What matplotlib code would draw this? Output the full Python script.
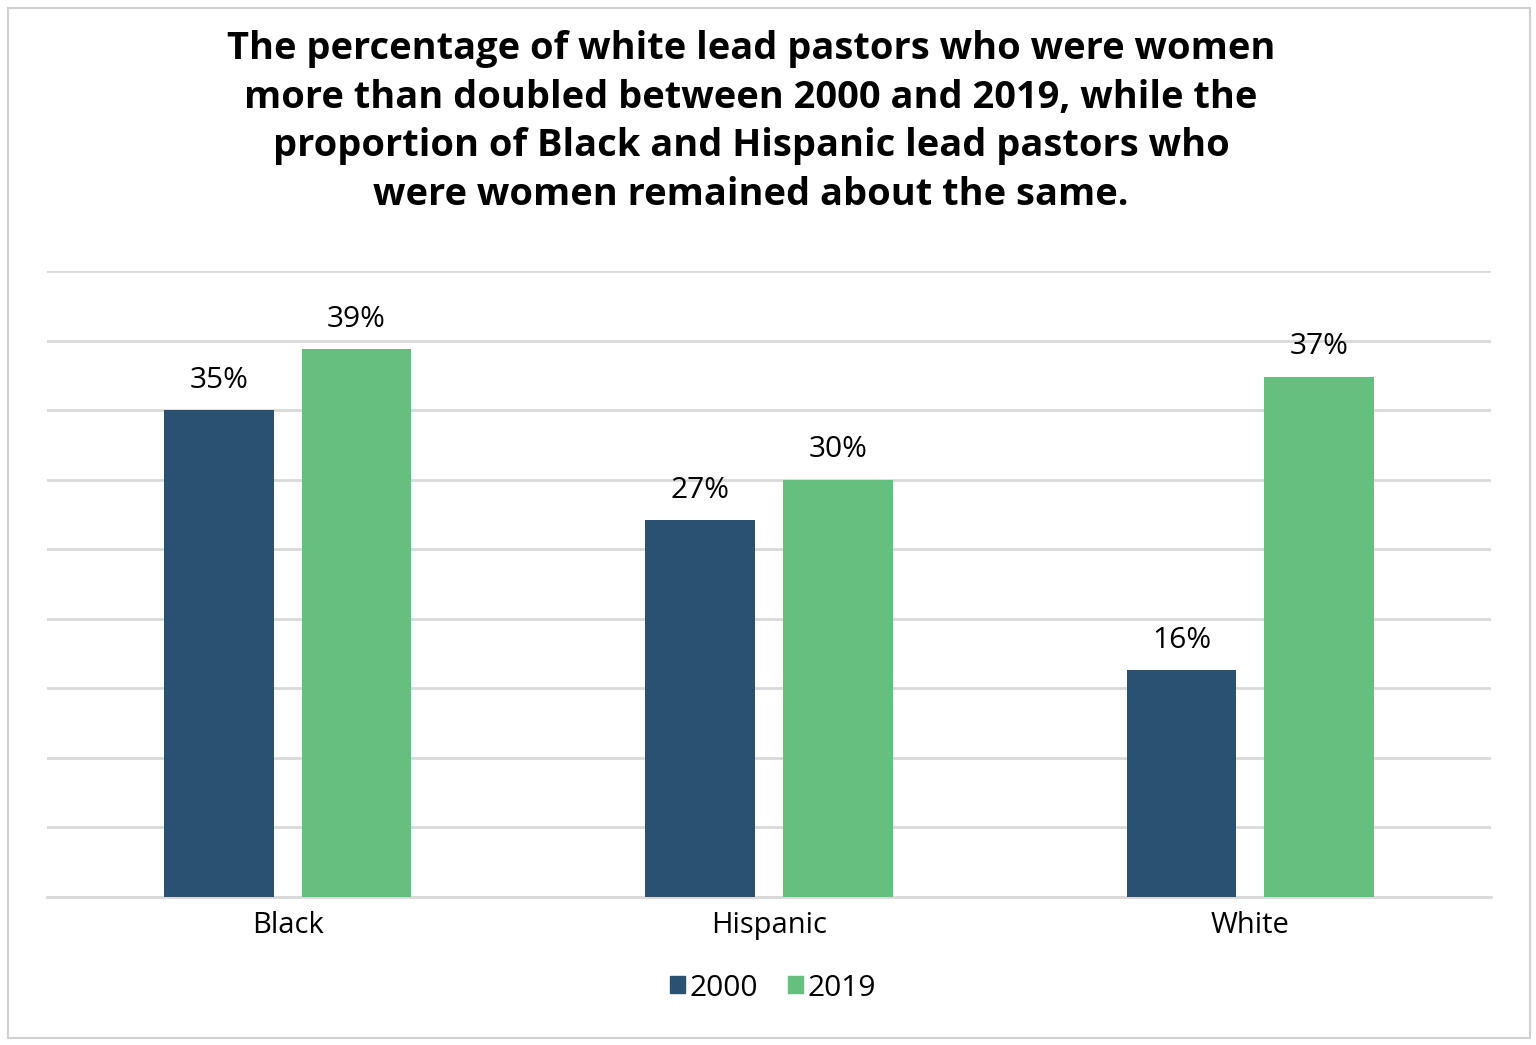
import matplotlib
matplotlib.use("Agg")
import matplotlib.pyplot as plt
from matplotlib.patches import Rectangle, Patch
import numpy as np

categories = ["Black", "Hispanic", "White"]
series_names = ["2000", "2019"]
values_2000 = [35.0, 27.1, 16.3]
values_2019 = [39.4, 30.0, 37.4]
labels_2000 = ["35%", "27%", "16%"]
labels_2019 = ["39%", "30%", "37%"]

colors = ["#2b5170", "#66bf7f"]
plt.rcParams['font.family'] = ['Open Sans', 'DejaVu Sans']

fig = plt.figure(figsize=(15.36, 10.45), dpi=100)
fig.patches.append(Rectangle((8/1536, 7/1045), 1522/1536, 1030/1045, transform=fig.transFigure,
                             fill=False, edgecolor="#d0d0d0", linewidth=1.5))

ax = fig.add_axes([47/1536, 1 - 897/1045, 1444/1536, (897 - 271)/1045])
x = np.arange(len(categories))
w = 0.228
off = 0.143
b1 = ax.bar(x - off, values_2000, w, color=colors[0], zorder=3)
b2 = ax.bar(x + off, values_2019, w, color=colors[1], zorder=3)
for bars, labs in ((b1, labels_2000), (b2, labels_2019)):
    for r, lab in zip(bars, labs):
        ax.annotate(lab, (r.get_x() + r.get_width()/2, r.get_height()), xytext=(0, 11),
                    textcoords="offset points", ha="center", va="bottom", fontsize=21.5)

ax.set_xlim(-0.5, 2.5)
ax.set_ylim(0, 45)
ax.set_yticks(np.arange(0, 46, 5))
ax.yaxis.grid(True, color="#d9d9d9", linewidth=2, zorder=0)
ax.tick_params(axis="y", left=False, labelleft=False)
ax.tick_params(axis="x", length=0, labelsize=21, pad=10)
ax.set_xticks(x)
ax.set_xticklabels(categories)
for s in ["top", "right", "left"]:
    ax.spines[s].set_visible(False)
ax.spines["bottom"].set_color("#d9d9d9")
ax.spines["bottom"].set_linewidth(2)

handles = [Patch(color=c, label=n) for c, n in zip(colors, series_names)]
fig.legend(handles=handles, loc="center", bbox_to_anchor=(773/1536, 1 - 988/1045), ncol=2,
           frameon=False, fontsize=21.5, handlelength=0.5, handleheight=0.5, handletextpad=0.15,
           columnspacing=1.0)

fig.text(0.489, 1 - 122/1045,
         "The percentage of white lead pastors who were women\n"
         "more than doubled between 2000 and 2019, while the\n"
         "proportion of Black and Hispanic lead pastors who\n"
         "were women remained about the same.",
         ha="center", va="center", fontsize=27.4, fontweight="bold", linespacing=1.36)

fig.savefig("out.png", dpi=100)
